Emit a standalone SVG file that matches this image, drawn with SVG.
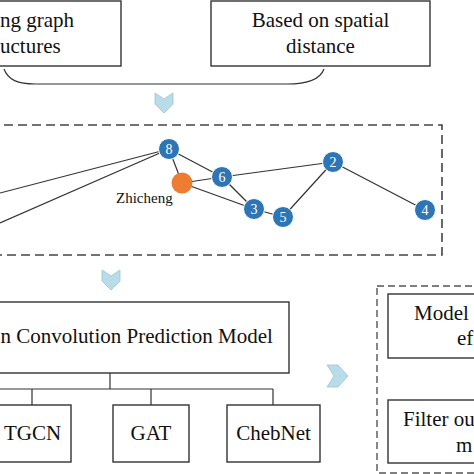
<svg xmlns="http://www.w3.org/2000/svg" width="474" height="474" viewBox="0 0 474 474">
<style>
.box{fill:#fff;stroke:#333;stroke-width:1.4}
.dash{fill:none;stroke:#444;stroke-width:1.6;stroke-dasharray:9 5}
.dash2{fill:none;stroke:#555;stroke-width:1.4;stroke-dasharray:7 4}
.t{font-family:"Liberation Serif","Times New Roman",serif;font-size:21px;fill:#111}
.edge{stroke:#333;stroke-width:1.2;fill:none}
.chev{fill:#b8dde9;stroke:#9cc3d2;stroke-width:0.8}
.bn{fill:#2e75b6;stroke:#fff;stroke-width:1}
.on{fill:#ed7d31}
.nl{font-family:"Liberation Serif","Times New Roman",serif;font-size:14px;fill:#fff;text-anchor:middle}
</style>
<rect width="474" height="474" fill="#fff"/>

<g id="box-existing">
<rect class="box" x="-20" y="1" width="141" height="65"/>
<text class="t" x="0" y="27">ng graph</text>
<text class="t" x="0" y="53">uctures</text>
</g>
<g id="box-spatial">
<rect class="box" x="211" y="1" width="219" height="65"/>
<text class="t" x="320.5" y="27" text-anchor="middle">Based on spatial</text>
<text class="t" x="320.5" y="53" text-anchor="middle">distance</text>
</g>

<g id="brace">
<path class="edge" d="M4,69 C8,80 18,84 35,84 L287,84 C305,84 320,80 324,69" stroke-width="1.5"/>
</g>

<g id="chevrons">
<path class="chev" d="M155,93 L164,99 L173,93 L173,104 L164,113 L155,104 Z"/>
<path class="chev" d="M102,270 L111,276 L120,270 L120,281 L111,290 L102,281 Z"/>
<path class="chev" d="M327,365 L338,365 L348,376 L338,387 L327,387 L334,376 Z"/>
</g>

<g id="graph-frame">
<rect class="dash" x="-10" y="125" width="452" height="130"/>
</g>

<g id="connectors">
<line class="edge" x1="0" y1="193" x2="169" y2="149"/>
<line class="edge" x1="0" y1="223" x2="169" y2="149"/>
<line class="edge" x1="169" y1="149" x2="222" y2="177"/>
<line class="edge" x1="169" y1="149" x2="182" y2="183"/>
<line class="edge" x1="182" y1="183" x2="222" y2="177"/>
<line class="edge" x1="182" y1="183" x2="254" y2="209"/>
<line class="edge" x1="222" y1="177" x2="254" y2="209"/>
<line class="edge" x1="222" y1="177" x2="333" y2="162"/>
<line class="edge" x1="254" y1="209" x2="283" y2="217"/>
<line class="edge" x1="283" y1="217" x2="333" y2="162"/>
<line class="edge" x1="333" y1="162" x2="425" y2="210"/>
<path class="edge" d="M110,373 V389 M-2,389 H273 M32,389 V405 M151,389 V405 M273,389 V405" stroke-width="1.4"/>
</g>

<g id="node-8"><circle class="bn" cx="169" cy="149" r="10.5"/><text class="nl" x="169" y="154">8</text></g>
<g id="node-zhicheng"><circle class="on" cx="182" cy="183" r="10.5"/><text x="116" y="203" font-family="Liberation Serif,serif" font-size="15" fill="#111">Zhicheng</text></g>
<g id="node-6"><circle class="bn" cx="222" cy="177" r="10.5"/><text class="nl" x="222" y="182">6</text></g>
<g id="node-3"><circle class="bn" cx="254" cy="209" r="10.5"/><text class="nl" x="254" y="214">3</text></g>
<g id="node-5"><circle class="bn" cx="283" cy="217" r="10.5"/><text class="nl" x="283" y="222">5</text></g>
<g id="node-2"><circle class="bn" cx="333" cy="162" r="10.5"/><text class="nl" x="333" y="167">2</text></g>
<g id="node-4"><circle class="bn" cx="425" cy="210" r="10.5"/><text class="nl" x="425" y="215">4</text></g>

<g id="box-model">
<rect class="box" x="-69" y="302" width="358" height="71"/>
<text class="t" x="0.5" y="343">n Convolution Prediction Model</text>
</g>
<g id="box-tgcn">
<rect class="box" x="-6" y="405" width="77" height="57"/>
<text class="t" x="32.5" y="440" text-anchor="middle">TGCN</text>
</g>
<g id="box-gat">
<rect class="box" x="113" y="405" width="76" height="57"/>
<text class="t" x="151" y="440" text-anchor="middle">GAT</text>
</g>
<g id="box-chebnet">
<rect class="box" x="227" y="405" width="93" height="57"/>
<text class="t" x="273.5" y="440" text-anchor="middle">ChebNet</text>
</g>

<g id="eval-frame">
<rect class="dash2" x="377" y="286" width="120" height="187"/>
</g>
<g id="box-effect">
<rect class="box" x="388" y="294" width="120" height="64"/>
<text class="t" x="414" y="320">Model</text>
<text class="t" x="457" y="345">ef</text>
</g>
<g id="box-filter">
<rect class="box" x="388" y="400" width="120" height="63"/>
<text class="t" x="403" y="426" font-size="19">Filter ou</text>
<text class="t" x="456" y="452">m</text>
</g>
</svg>
